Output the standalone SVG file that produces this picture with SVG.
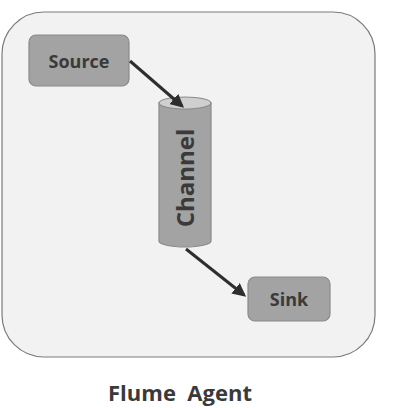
<svg xmlns="http://www.w3.org/2000/svg" width="400" height="408" viewBox="0 0 400 408">
<defs>
<style>
.box{fill:#a3a3a3;stroke:#8a8a8a;stroke-width:1.2}
.lbl{font-family:"Open Sans","DejaVu Sans",sans-serif;font-weight:bold;fill:#3a3a3a;text-anchor:middle}
.conn{stroke:#2e2e2e;stroke-width:3;fill:none;marker-end:url(#ah)}
</style>
<marker id="ah" viewBox="0 0 10 10" refX="8" refY="5" markerWidth="4.5" markerHeight="4.5" orient="auto" markerUnits="strokeWidth">
<path d="M0,0 L10,5 L0,10 z" fill="#2e2e2e"/>
</marker>
</defs>
<rect width="400" height="408" fill="#ffffff"/>
<g id="agent">
<rect x="2" y="12" width="373" height="345" rx="42" ry="42" fill="#f2f2f2" stroke="#7a7a7a" stroke-width="1.2"/>
</g>
<g id="source">
<rect class="box" x="29" y="35" width="100" height="51" rx="7"/>
<text class="lbl" x="79" y="68" font-size="18">Source</text>
</g>
<g id="channel">
<path d="M159,103 L159,241 A26,6 0 0 0 211,241 L211,103 Z" fill="#a3a3a3" stroke="#8a8a8a" stroke-width="1.2"/>
<ellipse cx="185" cy="103" rx="26" ry="6" fill="#cfcfcf" stroke="#8a8a8a" stroke-width="1.2"/>
<text class="lbl" x="0" y="0" font-size="24" transform="translate(194,178) rotate(-90)">Channel</text>
</g>
<g id="sink">
<rect class="box" x="248" y="277" width="82" height="44" rx="7"/>
<text class="lbl" x="289" y="306" font-size="18">Sink</text>
</g>
<g id="connectors">
<line class="conn" x1="130" y1="61" x2="182" y2="106"/>
<line class="conn" x1="186" y1="249" x2="244" y2="295"/>
</g>
<text class="lbl" x="180" y="401" font-size="22" xml:space="preserve">Flume  Agent</text>
</svg>
